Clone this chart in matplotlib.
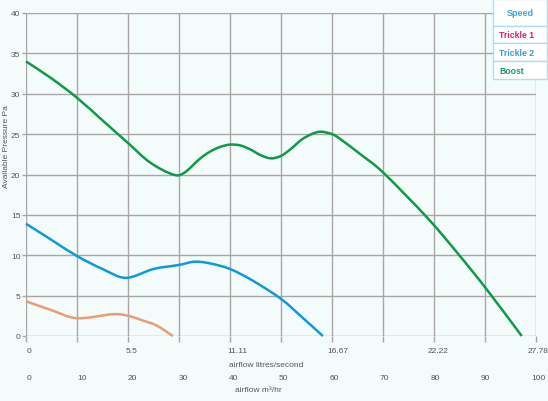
import numpy as np
import matplotlib
matplotlib.use("Agg")
import matplotlib.pyplot as plt
import matplotlib.transforms as mtransforms
from matplotlib.patches import Rectangle, PathPatch
from matplotlib.path import Path

plt.rcParams['font.family'] = ['Liberation Sans', 'DejaVu Sans']

# airflow m3/hr vs available pressure Pa
boost_x = [0, 5, 10, 15, 20, 24.3, 28.8, 31, 34, 36, 38, 40, 42, 44, 46, 48, 50,
           52, 54, 56, 57.8, 60, 61.6, 65.8, 70.1, 78.6, 84.7, 90.3, 97.2]
boost_y = [34.0, 31.9, 29.5, 26.7, 23.9, 21.5, 20.0, 20.2, 21.9, 22.8, 23.4, 23.7,
           23.6, 23.1, 22.4, 22.0, 22.3, 23.2, 24.3, 25.0, 25.3, 25.0, 24.4, 22.4, 20.2,
           14.7, 10.2, 5.8, 0.0]

trickle2_x = [0, 5, 10, 15, 19.6, 25, 30, 33, 36, 40, 44.6, 50, 54, 58.2]
trickle2_y = [13.9, 11.9, 9.9, 8.3, 7.2, 8.3, 8.8, 9.2, 9.0, 8.3, 6.8, 4.6, 2.4, 0.0]

trickle1_x = [0, 5, 10, 17, 20, 23, 25.6, 28.8]
trickle1_y = [4.3, 3.2, 2.2, 2.7, 2.5, 1.9, 1.3, 0.0]

m3hr_ticks = [0, 10, 20, 30, 40, 50, 60, 70, 80, 90, 100]
ls_ticks = [0, 5.5, 11.11, 16.67, 22.22, 27.78]
ls_labels = ['0', '5.5', '11.11', '16.67', '22.22', '27.78']
y_ticks = [0, 5, 10, 15, 20, 25, 30, 35, 40]

legend_rows = ['Trickle 1', 'Trickle 2', 'Boost']
legend_cols = ['#e0186e', '#2c9ed6', '#129a6a']

bg = '#f3fbfb'
grid_c = '#aaa6a8'
text_c = '#555555'
fs = 6


def smooth_path(xs, ys):
    # catmull-rom through the read points, drawn as bezier segments
    pts = np.column_stack([xs, ys]).astype(float)
    verts = [pts[0]]
    codes = [Path.MOVETO]
    n = len(pts)
    for i in range(n - 1):
        p0 = pts[i - 1] if i > 0 else pts[i]
        p1 = pts[i]
        p2 = pts[i + 1]
        p3 = pts[i + 2] if i + 2 < n else pts[i + 1]
        verts += [p1 + (p2 - p0) / 6, p2 - (p3 - p1) / 6, p2]
        codes += [Path.CURVE4] * 3
    return Path(verts, codes)


fig = plt.figure(figsize=(5.48, 4.02), dpi=100, facecolor=bg)
ax = fig.add_axes([26 / 548, 1 - 337 / 402, 510 / 548, 323 / 402])
ax.set_facecolor(bg)
ax.set_xlim(0, 100)
ax.set_ylim(0, 40)
for s in ax.spines.values():
    s.set_visible(False)

ax.set_xticks(m3hr_ticks)
ax.set_xticklabels([])
ax.set_yticks(y_ticks)
ax.grid(True, color=grid_c, linewidth=1.0)
ax.set_axisbelow(True)
ax.tick_params(axis='x', length=4, width=1.0, color=grid_c)
ax.tick_params(axis='y', length=3, width=1.0, color=grid_c, pad=1, labelsize=fs, labelcolor=text_c)

# two rows of x labels: litres/second above, m3/hr below
trans = mtransforms.blended_transform_factory(ax.transData, ax.transAxes)
px = 100 / 510
for v, lab in zip(ls_ticks, ls_labels):
    xm = v * 3.6
    ax.text(xm + (1 - 0.095 * xm) * px, -0.0464, lab, transform=trans, fontsize=fs,
            color=text_c, ha='left', va='center')
for v in m3hr_ticks:
    ax.text(v + (1 - 0.06 * v) * px, -0.130, str(v), transform=trans, fontsize=fs,
            color=text_c, ha='left', va='center')

for xs, ys, col in [(trickle1_x, trickle1_y, '#eb9c74'),
                    (trickle2_x, trickle2_y, '#0e9ad8'),
                    (boost_x, boost_y, '#0e9a47')]:
    ax.add_patch(PathPatch(smooth_path(xs, ys), facecolor='none', edgecolor=col,
                           lw=1.8, capstyle='butt', clip_on=False))

ax.set_ylabel('Available Pressure Pa', fontsize=fs, color=text_c)
ax.yaxis.set_label_coords(-0.031, 0.59)
ax.text(0.47, -0.087, 'airflow litres/second', transform=ax.transAxes, fontsize=fs,
        color=text_c, ha='center', va='center')
ax.text(0.455, -0.167, 'airflow m³/hr', transform=ax.transAxes, fontsize=fs,
        color=text_c, ha='center', va='center')

# legend table, top right
bx0 = 493 / 548
bw = 54 / 548
edges = [0, 27, 44, 62, 80]
border = '#b0dcef'
for i in range(4):
    top = 1 - edges[i] / 402
    bot = 1 - edges[i + 1] / 402
    fig.patches.append(Rectangle((bx0, bot), bw, top - bot, transform=fig.transFigure,
                                 facecolor='white', edgecolor=border, linewidth=1.0))
fig.text(bx0 + bw / 2, 1 - 13.5 / 402, 'Speed', color='#33a9e0', fontsize=6.5,
         fontweight='bold', ha='center', va='center')
for i, (name, col) in enumerate(zip(legend_rows, legend_cols)):
    yc = 1 - (edges[i + 1] + edges[i + 2]) / 2 / 402
    fig.text(499 / 548, yc, name, color=col, fontsize=6.2, fontweight='bold',
             ha='left', va='center')

fig.savefig('out.png', dpi=100, facecolor=bg)
